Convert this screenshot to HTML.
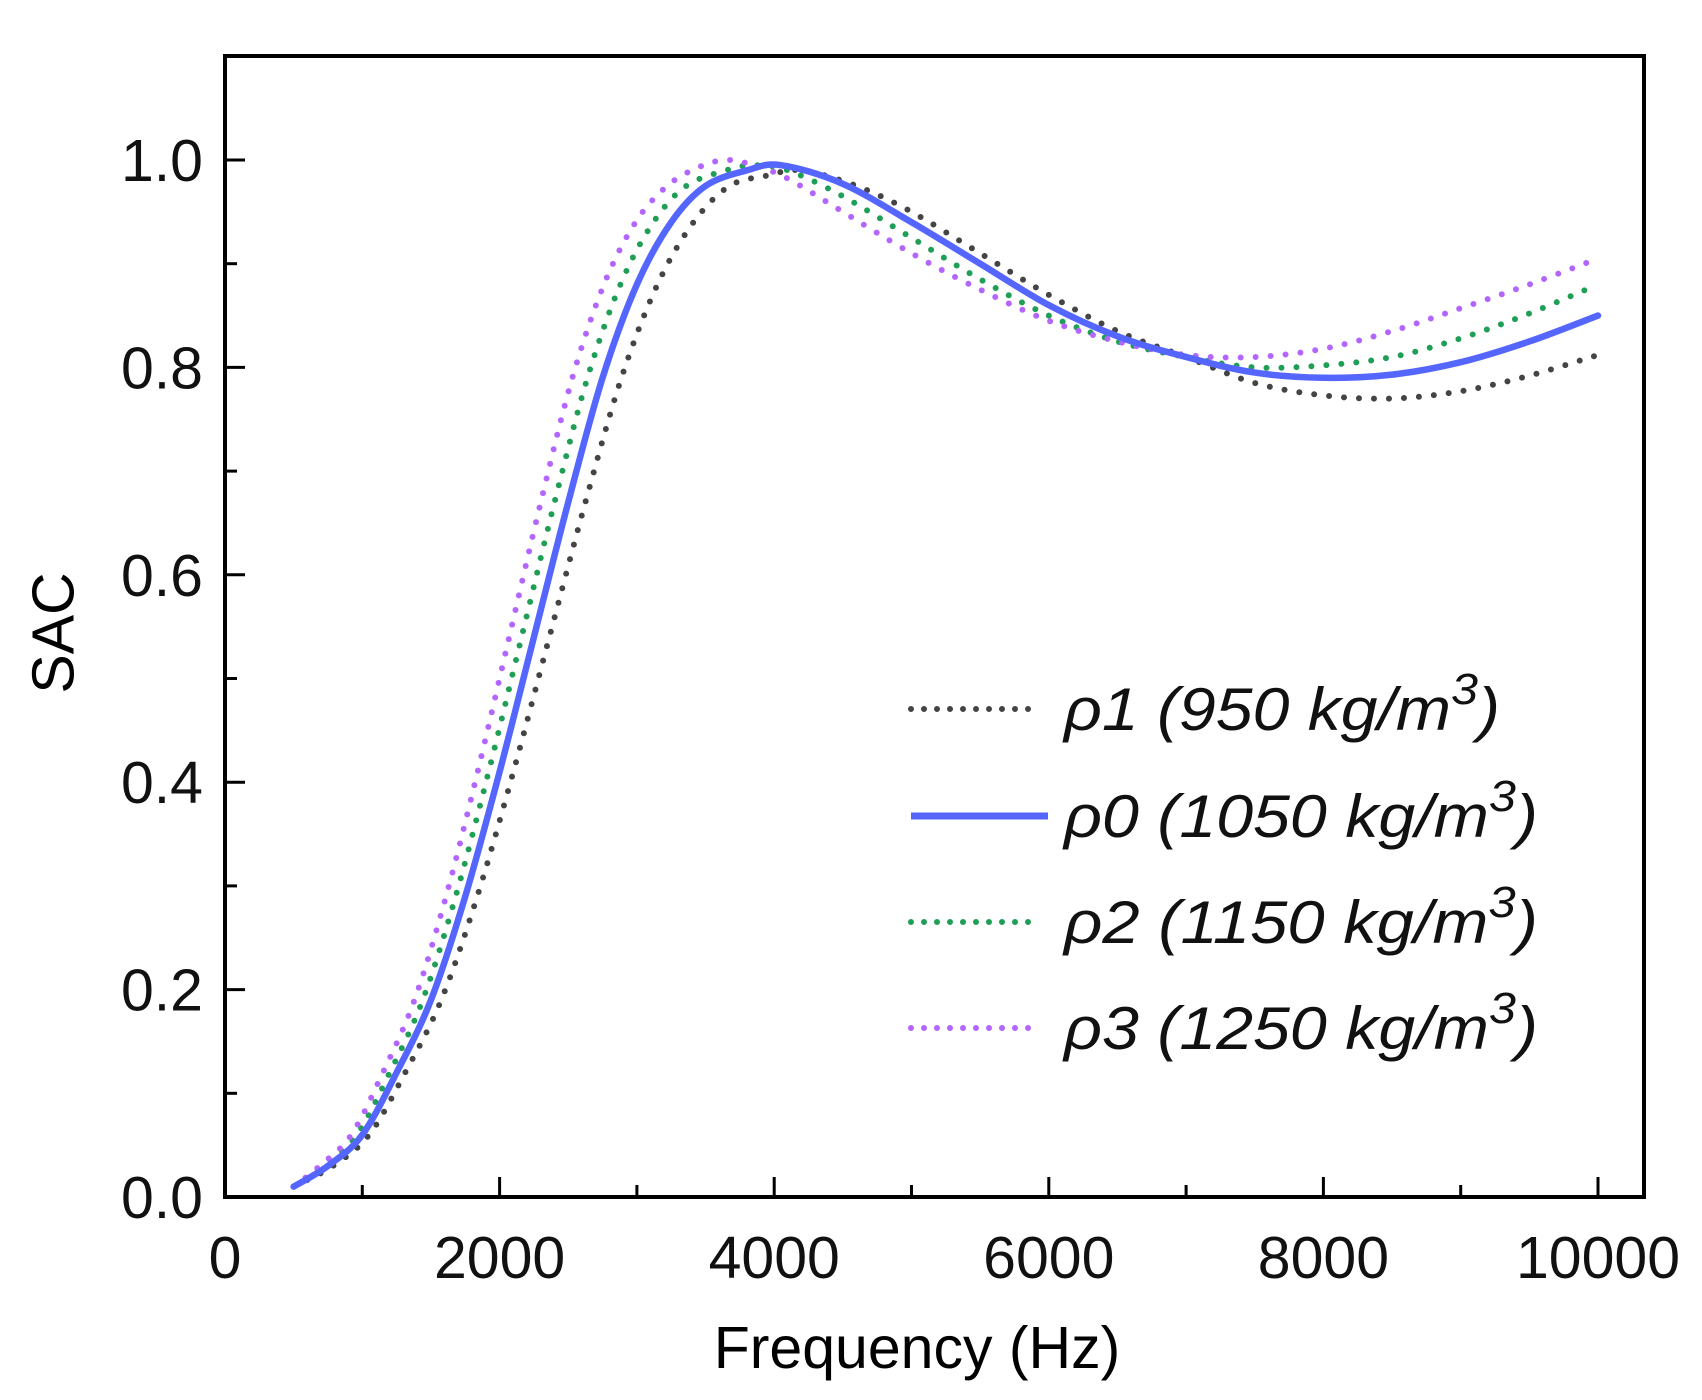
<!DOCTYPE html>
<html><head><meta charset="utf-8"><style>
html,body{margin:0;padding:0;background:#fff;}
svg{display:block;font-family:"Liberation Sans",Arial,sans-serif;}
</style></head><body>
<svg id="s" width="1702" height="1400" viewBox="0 0 1702 1400" xmlns="http://www.w3.org/2000/svg">
<rect width="1702" height="1400" fill="#fff"/>
<g id="curves"></g>
<rect x="225" y="56" width="1419" height="1141" fill="none" stroke="#000" stroke-width="4"/>
<g id="ticks" stroke="#000" stroke-width="3"></g>
<g id="labels" font-size="59" fill="#111"></g>
<text x="58" y="633" font-size="59" text-anchor="middle" transform="rotate(-90 58 633)" dominant-baseline="middle">SAC</text>
<text x="917" y="1368" font-size="59" text-anchor="middle">Frequency (Hz)</text>
<g font-size="60" font-style="italic" fill="#111" textLength="">
<line x1="911" y1="709" x2="1034" y2="709" stroke="#444" stroke-width="6" stroke-linecap="round" stroke-dasharray="0 13"/>
<text x="1064" y="730" textLength="436" lengthAdjust="spacingAndGlyphs">ρ1 (950 kg/m<tspan dy="-26" font-size="44">3</tspan><tspan dy="26">)</tspan></text>
<line x1="911" y1="816" x2="1048" y2="816" stroke="#5566ff" stroke-width="7"/>
<text x="1064" y="837" textLength="474" lengthAdjust="spacingAndGlyphs">ρ0 (1050 kg/m<tspan dy="-26" font-size="44">3</tspan><tspan dy="26">)</tspan></text>
<line x1="911" y1="922" x2="1034" y2="922" stroke="#1f9e55" stroke-width="6" stroke-linecap="round" stroke-dasharray="0 13"/>
<text x="1064" y="943" textLength="474" lengthAdjust="spacingAndGlyphs">ρ2 (1150 kg/m<tspan dy="-26" font-size="44">3</tspan><tspan dy="26">)</tspan></text>
<line x1="911" y1="1028" x2="1034" y2="1028" stroke="#b366ff" stroke-width="6" stroke-linecap="round" stroke-dasharray="0 13"/>
<text x="1064" y="1049" textLength="474" lengthAdjust="spacingAndGlyphs">ρ3 (1250 kg/m<tspan dy="-26" font-size="44">3</tspan><tspan dy="26">)</tspan></text>
</g>
</svg>
<script>
var NS="http://www.w3.org/2000/svg";
function X(f){return 225+f*0.1373;}
function Y(v){return 1197-v*1037;}
function el(p,t,a){var e=document.createElementNS(NS,t);for(var k in a)if(k!='text')e.setAttribute(k,a[k]);if(a.text)e.textContent=a.text;p.appendChild(e);return e;}
var tk=document.getElementById('ticks'),lb=document.getElementById('labels');
for(var f=0;f<=10000;f+=1000){var maj=f%2000==0;el(tk,'line',{x1:X(f),x2:X(f),y1:1197,y2:1197-(maj?20:12)});
 if(maj)el(lb,'text',{x:X(f),y:1278,'text-anchor':'middle',text:String(f)});}
for(var i=0;i<=10;i++){var v=i*0.1,maj=i%2==0;el(tk,'line',{x1:225,x2:225+(maj?20:12),y1:Y(v),y2:Y(v)});
 if(maj)el(lb,'text',{x:203,y:Y(v)+21,'text-anchor':'end',text:v.toFixed(1)});}
var rise=[[500,0.01],[750,0.03],[1000,0.06],[1250,0.12],[1500,0.19],[1750,0.29],[2000,0.41],[2250,0.54],[2500,0.67],[2750,0.79],[3000,0.88],[3250,0.94],[3500,0.975]];
function mk(k,tail){var p=rise.map(function(q){return [q[0]*k,q[1]];});p[0]=[500,0.01];return p.concat(tail);}
var series=[
 {c:"#444",pts:mk(1.05,[[3950,0.985],[4200,0.99],[4600,0.975],[5000,0.95],[5500,0.91],[6000,0.87],[6500,0.835],[7000,0.81],[7500,0.785],[8000,0.773],[8500,0.77],[9000,0.777],[9500,0.792],[10000,0.812]]),d:true},
 {c:"#1f9e55",pts:mk(0.96,[[3650,0.99],[3850,0.995],[4100,0.99],[4500,0.965],[5000,0.925],[5500,0.885],[6000,0.85],[6500,0.825],[7000,0.81],[7500,0.8],[8000,0.802],[8500,0.81],[9000,0.828],[9500,0.852],[10000,0.88]]),d:true},
 {c:"#b366ff",pts:mk(0.92,[[3450,0.993],[3650,1.0],[3850,0.995],[4100,0.982],[4500,0.95],[5000,0.91],[5500,0.875],[6000,0.845],[6500,0.825],[7000,0.812],[7500,0.81],[8000,0.818],[8500,0.835],[9000,0.857],[9500,0.88],[10000,0.905]]),d:true},
 {c:"#5566ff",pts:rise.concat([[3800,0.99],[4050,0.995],[4500,0.977],[5000,0.94],[5500,0.9],[6000,0.86],[6500,0.83],[7000,0.81],[7500,0.795],[8000,0.79],[8500,0.793],[9000,0.805],[9500,0.825],[10000,0.85]]),d:false}
];
var g=document.getElementById('curves');
series.forEach(function(s){
 var P=s.pts.map(function(q){return [X(q[0]),Y(q[1])];});
 var d="M"+P[0][0]+","+P[0][1];
 for(var i=0;i<P.length-1;i++){var p0=P[Math.max(i-1,0)],p1=P[i],p2=P[i+1],p3=P[Math.min(i+2,P.length-1)];
  d+=" C"+(p1[0]+(p2[0]-p0[0])/6)+","+(p1[1]+(p2[1]-p0[1])/6)+" "+(p2[0]-(p3[0]-p1[0])/6)+","+(p2[1]-(p3[1]-p1[1])/6)+" "+p2[0]+","+p2[1];}
 var a={d:d,fill:"none",stroke:s.c,"stroke-width":s.d?6:6.5,"stroke-linecap":"round"};
 if(s.d)a["stroke-dasharray"]="0 15";
 el(g,'path',a);
});
</script>
</body></html>
